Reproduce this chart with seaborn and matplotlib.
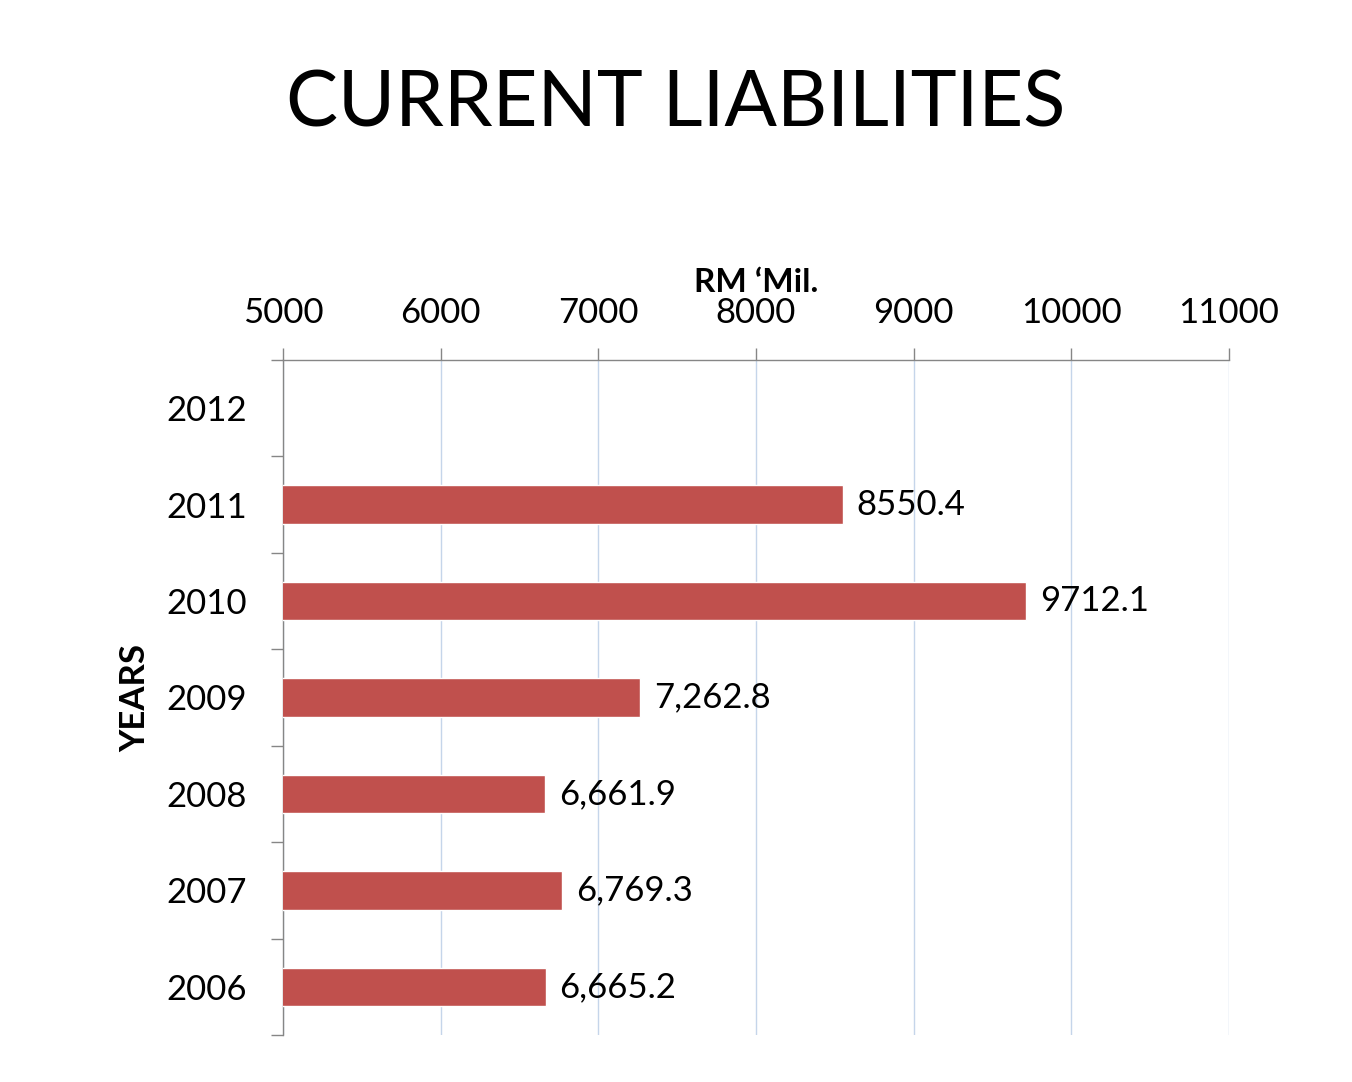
import matplotlib
matplotlib.use("Agg")
import matplotlib.pyplot as plt
import seaborn as sns
import pandas as pd
import numpy as np

years = ["2012", "2011", "2010", "2009", "2008", "2007", "2006"]
bar_years = ["2011", "2010", "2009", "2008", "2007", "2006"]
values = [8550.4, 9712.1, 7262.8, 6661.9, 6769.3, 6665.2]
value_labels = ["8550.4", "9712.1", "7,262.8", "6,661.9", "6,769.3", "6,665.2"]
x_ticks = [5000, 6000, 7000, 8000, 9000, 10000, 11000]

sns.set_theme(style="white")
plt.rcParams["font.family"] = ["Lato", "DejaVu Sans"]
plt.rcParams["text.color"] = "black"
plt.rcParams["axes.labelcolor"] = "black"
plt.rcParams["xtick.color"] = "black"
plt.rcParams["ytick.color"] = "black"

df = pd.DataFrame({"year": bar_years, "value": values})

fig = plt.figure(figsize=(13.52, 10.82), dpi=100)
ax = fig.add_axes([283/1352, 1-1035/1082, (1229-283)/1352, (1035-360)/1082])

sns.barplot(data=df, y="year", x="value", order=years, orient="h",
            color="#c0504d", saturation=1, width=0.4, ax=ax, zorder=3)

ax.set_xlim(5000, 11000)
ax.set_ylim(6.5, -0.5)
ax.set_xticks(x_ticks)
ax.xaxis.tick_top()
ax.xaxis.set_label_position("top")
ax.tick_params(axis="x", which="major", direction="out", length=9, width=1,
               color="#868686", labelsize=25, pad=13, labelcolor="black")
ax.set_xlabel("RM \u2018Mil.", fontsize=24, fontweight="bold", labelpad=4, color="black")
ax.set_ylabel("YEARS", fontsize=25, fontweight="bold", labelpad=11, color="black")

ax.set_yticks(range(len(years)))
ax.set_yticklabels(years)
ax.set_yticks(np.arange(-0.5, len(years)), minor=True)
ax.tick_params(axis="y", which="major", length=0, labelsize=25, pad=26, labelcolor="black")
ax.tick_params(axis="y", which="minor", direction="out", length=9, width=1,
               color="#868686", left=True)

ax.grid(axis="x", color="#c5d5ea", linewidth=1, zorder=0)
ax.set_axisbelow(True)
for s in ["right", "bottom"]:
    ax.spines[s].set_visible(False)
for s in ["left", "top"]:
    ax.spines[s].set_color("#868686")
    ax.spines[s].set_linewidth(1)

ax.bar_label(ax.containers[0], labels=value_labels, padding=10, fontsize=25, color="black")

fig.text(0.5, 1-105/1082, "CURRENT LIABILITIES", ha="center", va="center",
         fontsize=56, color="black")

fig.savefig("out.png", dpi=100)
